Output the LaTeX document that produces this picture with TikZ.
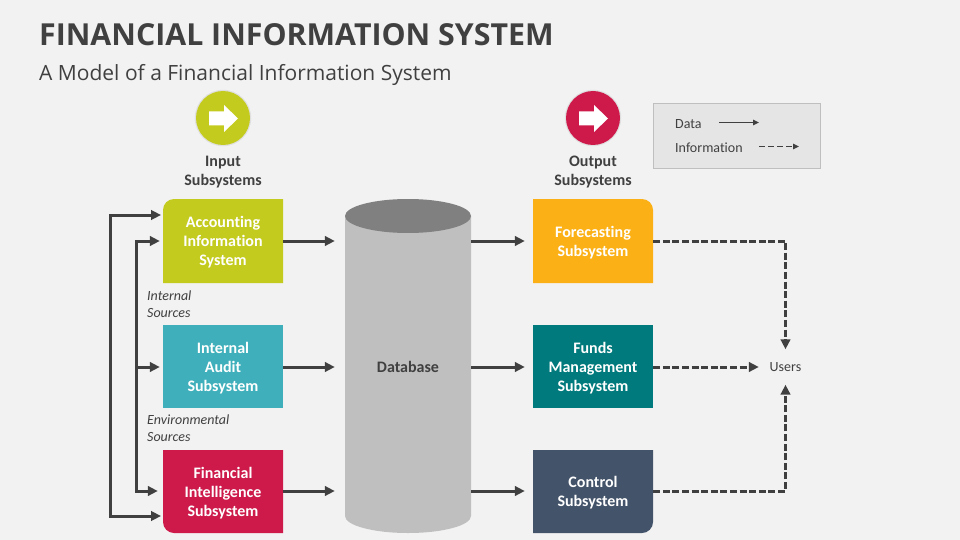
\documentclass[tikz,border=0pt]{standalone}
\usepackage{fontspec}
\setmainfont{Carlito}[Ligatures=NoCommon]
\newfontfamily\headfont{Open Sans}
\usetikzlibrary{arrows.meta}
\definecolor{pagegray}{HTML}{F2F2F2}
\definecolor{inkgray}{HTML}{404040}
\definecolor{limebox}{HTML}{C4CB1F}
\definecolor{tealbox}{HTML}{3FB0BB}
\definecolor{redbox}{HTML}{CD1A4B}
\definecolor{amberbox}{HTML}{FBB116}
\definecolor{greenbox}{HTML}{007A7C}
\definecolor{slatebox}{HTML}{435369}
\tikzset{
	labelbox/.style={text=white, font=\fontsize{16}{19}\selectfont\bfseries, align=center, minimum width=120pt, minimum height=84pt, inner sep=0pt},
	headtext/.style={text=inkgray, font=\fontsize{16}{19}\selectfont\bfseries, align=center, inner sep=0pt},
	sidetext/.style={text=inkgray, font=\fontsize{14}{17}\selectfont\itshape, align=left, anchor=west, inner sep=0pt},
	smalltext/.style={text=inkgray, font=\fontsize{14}{16}\selectfont, inner sep=0pt},
	dataline/.style={draw=inkgray, line width=3pt, -{Triangle[length=10pt,width=9.5pt]}},
	infoline/.style={dataline, dash pattern=on 7pt off 2.6pt},
	keyline/.style={draw=inkgray, line width=1.8pt, -{Triangle[length=6pt,width=5.5pt]}},
}
\begin{document}
\begin{tikzpicture}[x=1pt, y=-1pt]
	%%%%% START %%%%%
	\useasboundingbox[fill=pagegray] (0, 0) rectangle (960, 540);

	\node[anchor=west, inner sep=0pt, text=inkgray, font=\fontsize{30.3}{36}\selectfont\headfont\bfseries] (title) at (39, 35) {FINANCIAL INFORMATION SYSTEM};
	\node[anchor=west, inner sep=0pt, text=inkgray, font=\fontsize{21}{25}\selectfont\headfont] (subtitle) at (39, 74.5) {A Model of a Financial Information System};

	% round signs
	\foreach \cx/\col in {223/limebox, 593/redbox} {
		\fill[black!5] (\cx, 118) circle (29.5);
		\fill[black!12] (\cx, 118) circle (28.2);
		\fill[\col] (\cx, 118) circle (27);
		\fill[white] (\cx-14, 111.5) -- (\cx+1, 111.5) -- (\cx+1, 105) -- (\cx+15, 118.5) -- (\cx+1, 132) -- (\cx+1, 125.5) -- (\cx-14, 125.5) -- cycle;
	}
	\node[headtext] (inhead) at (223, 172.5) {Input\\Subsystems};
	\node[headtext] (outhead) at (593, 172.5) {Output\\Subsystems};

	% legend
	\draw[draw=black!25, fill=black!10] (653.5, 103.5) rectangle (820.5, 168);
	\node[smalltext, anchor=west] (datakey) at (675, 124) {Data};
	\node[smalltext, anchor=west] (infokey) at (675, 148) {Information};
	\coordinate (datafrom) at (719, 122.5);
	\coordinate (datato) at (759, 122.5);
	\coordinate (infofrom) at (759, 146.5);
	\coordinate (infoto) at (799, 146.5);
	\draw[keyline] (datafrom) -- (datato);
	\draw[keyline, dash pattern=on 6pt off 3pt] (infofrom) -- (infoto);

	% cylinder
	\fill[black!25] (345, 216) -- (345, 516) arc (180:0:63 and 17) -- (471, 216) -- cycle;
	\fill[black!50] (408, 216) ellipse (63 and 17);
	\node[minimum width=126pt, minimum height=334pt, inner sep=0pt, text=inkgray, font=\fontsize{16}{19}\selectfont\bfseries] (dbase) at (408, 367) {Database};

	% input boxes
	\fill[limebox] (163, 283) [rounded corners=11pt] -- (163, 199) [sharp corners] -- (283, 199) -- (283, 283) -- cycle;
	\fill[tealbox] (163, 325) rectangle (283, 408);
	\fill[redbox] (283, 533) [rounded corners=11pt] -- (163, 533) [sharp corners] -- (163, 450) -- (283, 450) -- cycle;
	\node[labelbox] (account) at (223, 242.5) {Accounting\\Information\\System};
	\node[labelbox] (audit) at (223, 368.5) {Internal\\Audit\\Subsystem};
	\node[labelbox] (intel) at (223, 493.5) {Financial\\Intelligence\\Subsystem};

	% output boxes
	\fill[amberbox] (533, 199) [rounded corners=11pt] -- (653, 199) [sharp corners] -- (653, 283) -- (533, 283) -- cycle;
	\fill[greenbox] (533, 325) rectangle (653, 408);
	\fill[slatebox] (653, 450) [rounded corners=11pt] -- (653, 533) [sharp corners] -- (533, 533) -- (533, 450) -- cycle;
	\node[labelbox] (forecast) at (593, 242.5) {Forecasting\\Subsystem};
	\node[labelbox] (funds) at (593, 368.5) {Funds\\Management\\Subsystem};
	\node[labelbox] (control) at (593, 492.5) {Control\\Subsystem};

	\node[sidetext] (internal) at (147, 304.5) {Internal\\Sources};
	\node[sidetext] (environ) at (147, 428.5) {Environmental\\Sources};
	\node[smalltext, minimum width=53pt, minimum height=35pt] (users) at (785.5, 367) {Users};

	\coordinate (rowone) at (0, 241);
	\coordinate (rowtwo) at (0, 367);
	\coordinate (rowthree) at (0, 491);

	% into the database and out of it
	\foreach \src/\dst/\row in {account/forecast/rowone, audit/funds/rowtwo, intel/control/rowthree} {
		\draw[dataline, shorten >=10pt] (\src.east |- \row) -- (dbase.west |- \row);
		\draw[dataline, shorten >=8pt] (dbase.east |- \row) -- (\dst.west |- \row);
	}

	% feeds on the left
	\coordinate (toptip) at (161, 215);
	\coordinate (lowtip) at (161, 516);
	\coordinate (outerrail) at (110, 366);
	\coordinate (innerrail) at (136, 366);
	\draw[dataline, {Triangle[length=10pt,width=9.5pt]}-{Triangle[length=10pt,width=9.5pt]}] (toptip) -- (toptip -| outerrail) -- (lowtip -| outerrail) -- (lowtip);
	\draw[dataline, shorten >=3pt] (innerrail |- rowone) -- (account.west |- rowone);
	\draw[dataline, shorten >=3pt] (innerrail |- rowtwo) -- (audit.west |- rowtwo);
	\draw[dataline, shorten >=5pt] (innerrail |- rowthree) -- (intel.west |- rowthree);
	\draw[draw=inkgray, line width=3pt, line cap=rect] (innerrail |- rowone) -- (innerrail |- rowthree);

	% out to the users
	\draw[infoline] (forecast.east |- rowone) -| (users.north);
	\draw[infoline] (funds.east |- rowtwo) -- (users.west);
	\draw[infoline] (control.east |- rowthree) -| (users.south);
	%%%%% END %%%%%
\end{tikzpicture}
\end{document}
